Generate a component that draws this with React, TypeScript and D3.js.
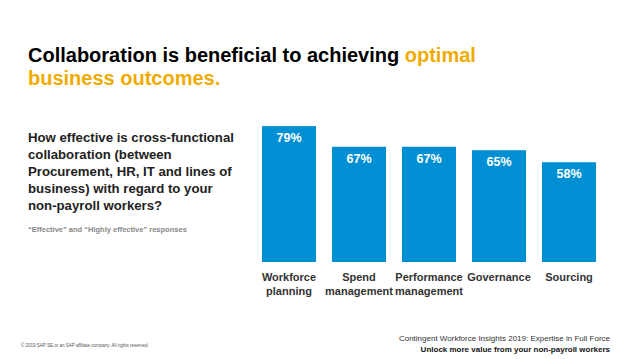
import React from "react";
import * as d3 from "d3";

const categories = ["Workforce|planning", "Spend|management", "Performance|management", "Governance", "Sourcing"];
const values = [79, 67, 67, 65, 58];
const questionLines = [
  "How effective is cross-functional",
  "collaboration (between",
  "Procurement, HR, IT and lines of",
  "business) with regard to your",
  "non-payroll workers?",
];

const W = 638;
const H = 359;
const FONT = "'Liberation Sans', Arial, Helvetica, sans-serif";

export default function App() {
  // band scale tuned so bars are ~54px wide on a 70px step
  const x = d3.scaleBand().domain(categories).range([248, 610]).paddingInner(0.2286).paddingOuter(0.2);
  const y = d3.scaleLinear().domain([0, 100]).range([262, 90]);

  return (
    <svg width={W} height={H} style={{ position: "absolute", left: 0, top: 0, background: "#fff" }} fontFamily={FONT}>
      <text x={28} y={62} fontSize={20} fontWeight="bold" fill="#000">
        Collaboration is beneficial to achieving <tspan fill="#f0ab00">optimal</tspan>
      </text>
      <text x={28} y={85} fontSize={20} fontWeight="bold" fill="#f0ab00">
        business outcomes.
      </text>

      {questionLines.map((l, i) => (
        <text key={i} x={28} y={142 + i * 17} fontSize={13.2} fontWeight="bold" fill="#222">
          {l}
        </text>
      ))}
      <text x={28} y={232} fontSize={7.5} fontWeight="bold" fill="#888">
        “Effective” and “Highly effective” responses
      </text>

      {categories.map((c, i) => {
        const bx = x(c)!;
        const bw = x.bandwidth();
        const parts = c.split("|");
        return (
          <g key={c}>
            <rect x={bx} y={y(values[i])} width={bw} height={y(0) - y(values[i])} fill="#008fd3" />
            <text x={bx + bw / 2} y={y(values[i]) + 16} textAnchor="middle" fontSize={12.5} fontWeight="bold" fill="#fff">
              {values[i]}%
            </text>
            {parts.map((p, j) => (
              <text key={j} x={bx + bw / 2} y={281 + j * 14} textAnchor="middle" fontSize={11} fontWeight="bold" fill="#333">
                {p}
              </text>
            ))}
          </g>
        );
      })}

      <text x={21} y={347} fontSize={4.5} fill="#555">
        © 2019 SAP SE or an SAP affiliate company. All rights reserved.
      </text>
      <text x={610} y={341} textAnchor="end" fontSize={8} fill="#333">
        Contingent Workforce Insights 2019: Expertise in Full Force
      </text>
      <text x={610} y={352} textAnchor="end" fontSize={8} fontWeight="bold" fill="#111">
        Unlock more value from your non-payroll workers
      </text>
    </svg>
  );
}
